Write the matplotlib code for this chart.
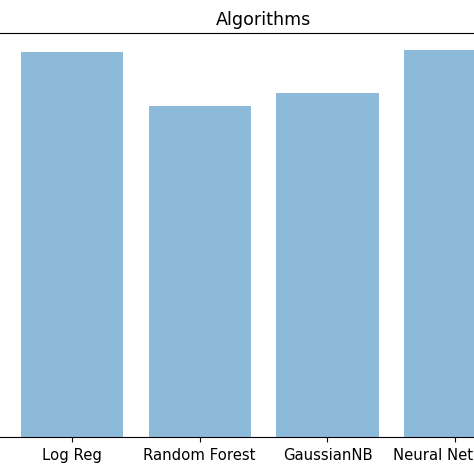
import matplotlib
matplotlib.use("Agg")
import matplotlib.pyplot as plt
import numpy as np

algorithms = ["Log Reg", "Random Forest", "GaussianNB", "Neural Networks"]
accuracy = [0.952, 0.819, 0.851, 0.958]

W = 474.0
fig = plt.figure(figsize=(4.74, 4.74), dpi=100)

# axes runs off the left and right edges of the picture (cropped chart)
ax_left = -3.4
ax_width = 534.0
ax_bottom = 474.0 - 437.0
ax_height = 404.0
ax = fig.add_axes([ax_left / W, ax_bottom / W, ax_width / W, ax_height / W])

pos = np.arange(len(algorithms))
ax.bar(pos, accuracy, align="center", alpha=0.5, width=0.8)
ax.set_xticks(pos)
ax.set_xticklabels(algorithms, fontsize=10.7)
ax.tick_params(axis="x", pad=4.5)
# y axis is outside the cropped picture
ax.tick_params(axis="y", left=False, labelleft=False)
ax.set_ylim(0, 1)
ax.set_xlim(-0.59, 3.59)
ax.set_title("Algorithms", fontsize=12.6)

fig.savefig("out.png", dpi=100)
